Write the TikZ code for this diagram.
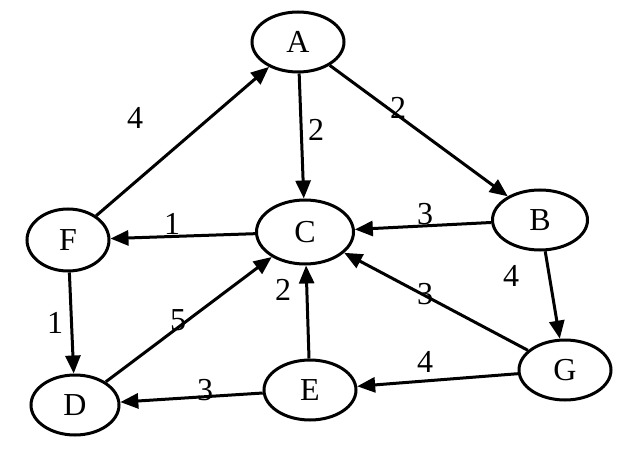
\documentclass[tikz,border=0pt]{standalone}
\usepackage{fontspec}
\setmainfont{Liberation Serif}
\usetikzlibrary{shapes.geometric,arrows.meta}
\begin{document}
\begin{tikzpicture}[x=1pt,y=-1pt,
  vtx/.style={ellipse,draw,line width=3pt,minimum width=92pt,minimum height=60pt,inner sep=0pt,font=\fontsize{32}{36}\selectfont},
  edge/.style={line width=3pt,-{Triangle[length=18pt,width=15pt]}},
  lbl/.style={font=\fontsize{32}{36}\selectfont}]
\useasboundingbox (0,0) rectangle (621,473);
\node[vtx] (A) at (298,42) {A};
\node[vtx,minimum width=97pt,minimum height=64pt] (C) at (305,232) {C};
\node[vtx,minimum width=95pt] (B) at (540,220) {B};
\node[vtx,minimum width=82pt,minimum height=62pt] (F) at (68,240) {F};
\node[vtx,minimum width=88pt] (D) at (75,405) {D};
\node[vtx] (E) at (310,390) {E};
\node[vtx] (G) at (565,370) {G};
\draw[edge] (F) -- (A);
\draw[edge] (A) -- (C);
\draw[edge] (A) -- (B);
\draw[edge] (B) -- (C);
\draw[edge] (C) -- (F);
\draw[edge] (B) -- (G);
\draw[edge] (G) -- (C);
\draw[edge] (G) -- (E);
\draw[edge] (E) -- (C);
\draw[edge] (D) -- (C);
\draw[edge] (E) -- (D);
\draw[edge] (F) -- (D);
\node[lbl] (l1) at (135,118) {4};
\node[lbl] (l2) at (316,130) {2};
\node[lbl] (l3) at (398,108) {2};
\node[lbl] (l4) at (425,214) {3};
\node[lbl] (l5) at (172,224) {1};
\node[lbl] (l6) at (511,276) {4};
\node[lbl] (l7) at (425,294) {3};
\node[lbl] (l8) at (425,362) {4};
\node[lbl] (l9) at (283,290) {2};
\node[lbl] (l10) at (178,320) {5};
\node[lbl] (l11) at (205,390) {3};
\node[lbl] (l12) at (55,323) {1};
\end{tikzpicture}
\end{document}
